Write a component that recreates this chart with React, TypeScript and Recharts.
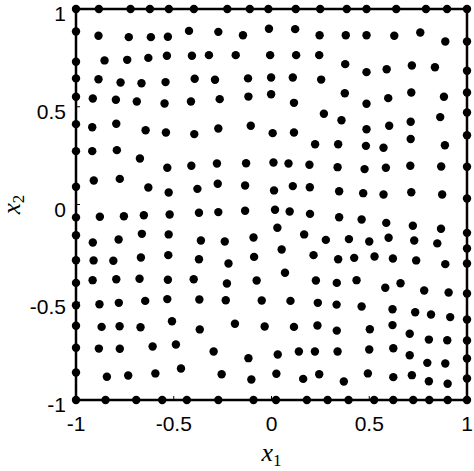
import React from "react";
import {
  ScatterChart,
  Scatter,
  XAxis,
  YAxis,
  ReferenceArea,
  Label,
} from "recharts";

// points sitting on the square boundary
const topX = [-1, -0.883, -0.721, -0.622, -0.525, -0.397, -0.226, -0.111, -0.016, 0.124, 0.249, 0.385, 0.486, 0.638, 0.79, 0.898, 1];
const bottomX = [-1, -0.849, -0.692, -0.559, -0.433, -0.272, -0.092, 0.023, 0.181, 0.287, 0.394, 0.525, 0.623, 0.725, 0.807, 0.901, 1];
const leftY = [0.885, 0.73, 0.645, 0.551, 0.411, 0.273, 0.091, -0.066, -0.157, -0.285, -0.401, -0.515, -0.62, -0.733, -0.859];
const rightY = [0.834, 0.684, 0.573, 0.471, 0.354, 0.193, 0.031, -0.145, -0.225, -0.302, -0.455, -0.588, -0.696, -0.788, -0.89];

// interior points [x1, x2]
const interior: [number, number][] = [
  [-0.885, 0.863], [-0.73, 0.856], [-0.617, 0.856], [-0.53, 0.858], [-0.422, 0.888],
  [-0.854, 0.737], [-0.738, 0.74], [-0.63, 0.75], [-0.535, 0.761], [-0.407, 0.761], [-0.32, 0.764],
  [-0.885, 0.641], [-0.772, 0.624], [-0.665, 0.62], [-0.542, 0.626], [-0.393, 0.643],
  [-0.914, 0.542], [-0.796, 0.536], [-0.689, 0.527], [-0.547, 0.517], [-0.412, 0.527],
  [-0.917, 0.395], [-0.794, 0.413], [-0.644, 0.38], [-0.54, 0.368], [-0.395, 0.36],
  [-0.272, 0.883], [-0.146, 0.866], [-0.013, 0.899], [0.121, 0.897], [0.246, 0.866],
  [-0.183, 0.764], [-0.007, 0.764], [0.126, 0.764], [0.244, 0.764],
  [-0.289, 0.638], [-0.12, 0.645], [-0.002, 0.65], [0.109, 0.65], [0.254, 0.639],
  [-0.265, 0.539], [-0.118, 0.552], [-0.002, 0.564], [0.115, 0.52], [0.268, 0.464],
  [-0.272, 0.389], [-0.106, 0.403], [0.006, 0.365], [0.115, 0.368],
  [0.38, 0.866], [0.486, 0.866], [0.628, 0.863], [0.761, 0.88], [0.889, 0.834],
  [0.377, 0.718], [0.486, 0.677], [0.589, 0.692], [0.718, 0.711], [0.836, 0.702],
  [0.375, 0.569], [0.486, 0.515], [0.597, 0.544], [0.715, 0.573], [0.882, 0.551],
  [0.358, 0.431], [0.486, 0.385], [0.602, 0.403], [0.712, 0.423], [0.863, 0.447], [0.712, 0.335],
  [-0.917, 0.273], [-0.791, 0.278], [-0.673, 0.235], [-0.533, 0.188], [-0.41, 0.198],
  [-0.909, 0.123], [-0.776, 0.131], [-0.63, 0.087], [-0.526, 0.061], [-0.379, 0.08],
  [-0.878, -0.063], [-0.755, -0.06], [-0.653, -0.055], [-0.521, -0.051], [-0.371, -0.042],
  [-0.914, -0.194], [-0.782, -0.179], [-0.663, -0.15], [-0.526, -0.153], [-0.361, -0.184],
  [-0.91, -0.286], [-0.809, -0.288], [-0.668, -0.271], [-0.528, -0.259], [-0.371, -0.28],
  [0.223, 0.308], [0.341, 0.308],
  [-0.279, 0.21], [-0.13, 0.211], [0.01, 0.215], [0.087, 0.21], [0.194, 0.203], [0.338, 0.191],
  [-0.275, 0.106], [-0.135, 0.097], [0.013, 0.072], [0.109, 0.094], [0.196, 0.088], [0.346, 0.068],
  [-0.272, -0.039], [-0.135, -0.032], [0.018, -0.027], [0.093, -0.036], [0.197, -0.048], [0.346, -0.065],
  [0.03, -0.119], [0.167, -0.153], [0.278, -0.181], [-0.239, -0.189], [-0.092, -0.169],
  [0.052, -0.23], [0.215, -0.259], [0.341, -0.28], [-0.089, -0.268], [-0.22, -0.302],
  [0.483, 0.3], [0.573, 0.29], [0.887, 0.303],
  [0.476, 0.181], [0.585, 0.188], [0.71, 0.198], [0.868, 0.194],
  [0.469, 0.058], [0.573, 0.051], [0.715, 0.063], [0.873, 0.051],
  [0.461, -0.077], [0.587, -0.094], [0.723, -0.109], [0.867, -0.124],
  [0.396, -0.177], [0.5, -0.189], [0.599, -0.17], [0.73, -0.184], [0.848, -0.199],
  [0.423, -0.273], [0.527, -0.266], [0.621, -0.276], [0.74, -0.286], [0.889, -0.305],
  [-0.915, -0.387], [-0.794, -0.382], [-0.675, -0.38], [-0.53, -0.385], [-0.398, -0.382],
  [-0.88, -0.51], [-0.781, -0.503], [-0.646, -0.493], [-0.533, -0.484], [-0.369, -0.486],
  [-0.869, -0.626], [-0.777, -0.623], [-0.67, -0.628], [-0.509, -0.597], [-0.367, -0.639],
  [-0.883, -0.737], [-0.776, -0.738], [-0.608, -0.726], [-0.489, -0.716],
  [-0.842, -0.881], [-0.733, -0.875], [-0.594, -0.864], [-0.463, -0.839],
  [0.069, -0.349], [-0.228, -0.404], [-0.076, -0.389], [0.227, -0.389], [0.334, -0.401],
  [-0.234, -0.49], [-0.05, -0.491], [0.097, -0.493], [0.237, -0.503], [0.333, -0.512],
  [-0.187, -0.61], [-0.035, -0.624], [0.115, -0.626], [0.235, -0.619], [0.334, -0.645],
  [-0.296, -0.752], [-0.118, -0.786], [0.032, -0.767], [0.14, -0.752], [0.222, -0.752], [0.338, -0.752],
  [-0.255, -0.868], [-0.103, -0.895], [0.025, -0.866], [0.162, -0.892], [0.244, -0.868], [0.37, -0.905],
  [0.435, -0.387], [0.582, -0.426], [0.66, -0.403], [0.781, -0.44], [0.906, -0.45],
  [0.461, -0.522], [0.619, -0.536], [0.735, -0.551], [0.816, -0.563], [0.914, -0.576],
  [0.503, -0.638], [0.619, -0.617], [0.707, -0.661], [0.805, -0.691], [0.899, -0.694],
  [0.5, -0.742], [0.623, -0.735], [0.707, -0.771], [0.797, -0.81], [0.889, -0.813],
  [0.493, -0.864], [0.623, -0.883], [0.718, -0.873], [0.805, -0.904], [0.901, -0.917],
];

const ticks = [-1, -0.5, 0, 0.5, 1];

const points = [
  ...topX.map((x) => ({ x, y: 1 })),
  ...bottomX.map((x) => ({ x, y: -1 })),
  ...leftY.map((y) => ({ x: -1, y })),
  ...rightY.map((y) => ({ x: 1, y })),
  ...interior.map(([x, y]) => ({ x, y })),
];

const tickFont = "'Liberation Sans', Arial, sans-serif";
const mathFont = "'Liberation Serif', 'Times New Roman', serif";

const BottomTick = ({ x, y, payload }: any) => (
  <text x={x} y={y + 25} textAnchor="middle" fontFamily={tickFont} fontSize={21} fill="#000">
    {payload.value}
  </text>
);

const LeftTick = ({ x, y, payload }: any) => (
  <text x={x} y={y + 12} textAnchor="end" fontFamily={tickFont} fontSize={21} fill="#000">
    {payload.value}
  </text>
);

const XTitle = ({ viewBox }: any) => {
  const cx = viewBox.x + viewBox.width / 2;
  return (
    <text x={cx} y={viewBox.y + 61} textAnchor="middle" fontFamily={mathFont} fontSize={26} fill="#000">
      <tspan fontStyle="italic">x</tspan>
      <tspan fontSize={17} dy={5}>1</tspan>
    </text>
  );
};

const YTitle = ({ viewBox }: any) => {
  const cy = viewBox.y + viewBox.height / 2;
  const x = 20;
  return (
    <text
      x={x}
      y={cy}
      transform={`rotate(-90, ${x}, ${cy})`}
      textAnchor="middle"
      fontFamily={mathFont}
      fontSize={25}
      fill="#000"
    >
      <tspan fontStyle="italic">x</tspan>
      <tspan fontSize={17} dy={4}>2</tspan>
    </text>
  );
};

const Dot = (props: any) => <circle cx={props.cx} cy={props.cy} r={4.2} fill="#000" />;

export default function App() {
  return (
    <div style={{ position: "absolute", left: 0, top: 0, background: "#fff" }}>
      <ScatterChart width={474} height={471} margin={{ top: 9, right: 7, bottom: 0, left: 0 }}>
        <XAxis
          type="number"
          dataKey="x"
          domain={[-1, 1]}
          ticks={ticks}
          interval={0}
          height={71}
          axisLine={false}
          tickSize={-4}
          tickMargin={10}
          tickLine={{ stroke: "#000" }}
          tick={<BottomTick />}
        >
          <Label content={<XTitle />} />
        </XAxis>
        <YAxis
          type="number"
          dataKey="y"
          domain={[-1, 1]}
          ticks={ticks}
          interval={0}
          width={76}
          axisLine={false}
          tickSize={-4}
          tickMargin={14}
          tickLine={{ stroke: "#000" }}
          tick={<LeftTick />}
        >
          <Label content={<YTitle />} />
        </YAxis>
        <ReferenceArea x1={-1} x2={1} y1={-1} y2={1} fill="none" stroke="#000" strokeWidth={2.5} />
        <Scatter data={points} fill="#000" shape={<Dot />} isAnimationActive={false} />
      </ScatterChart>
    </div>
  );
}
